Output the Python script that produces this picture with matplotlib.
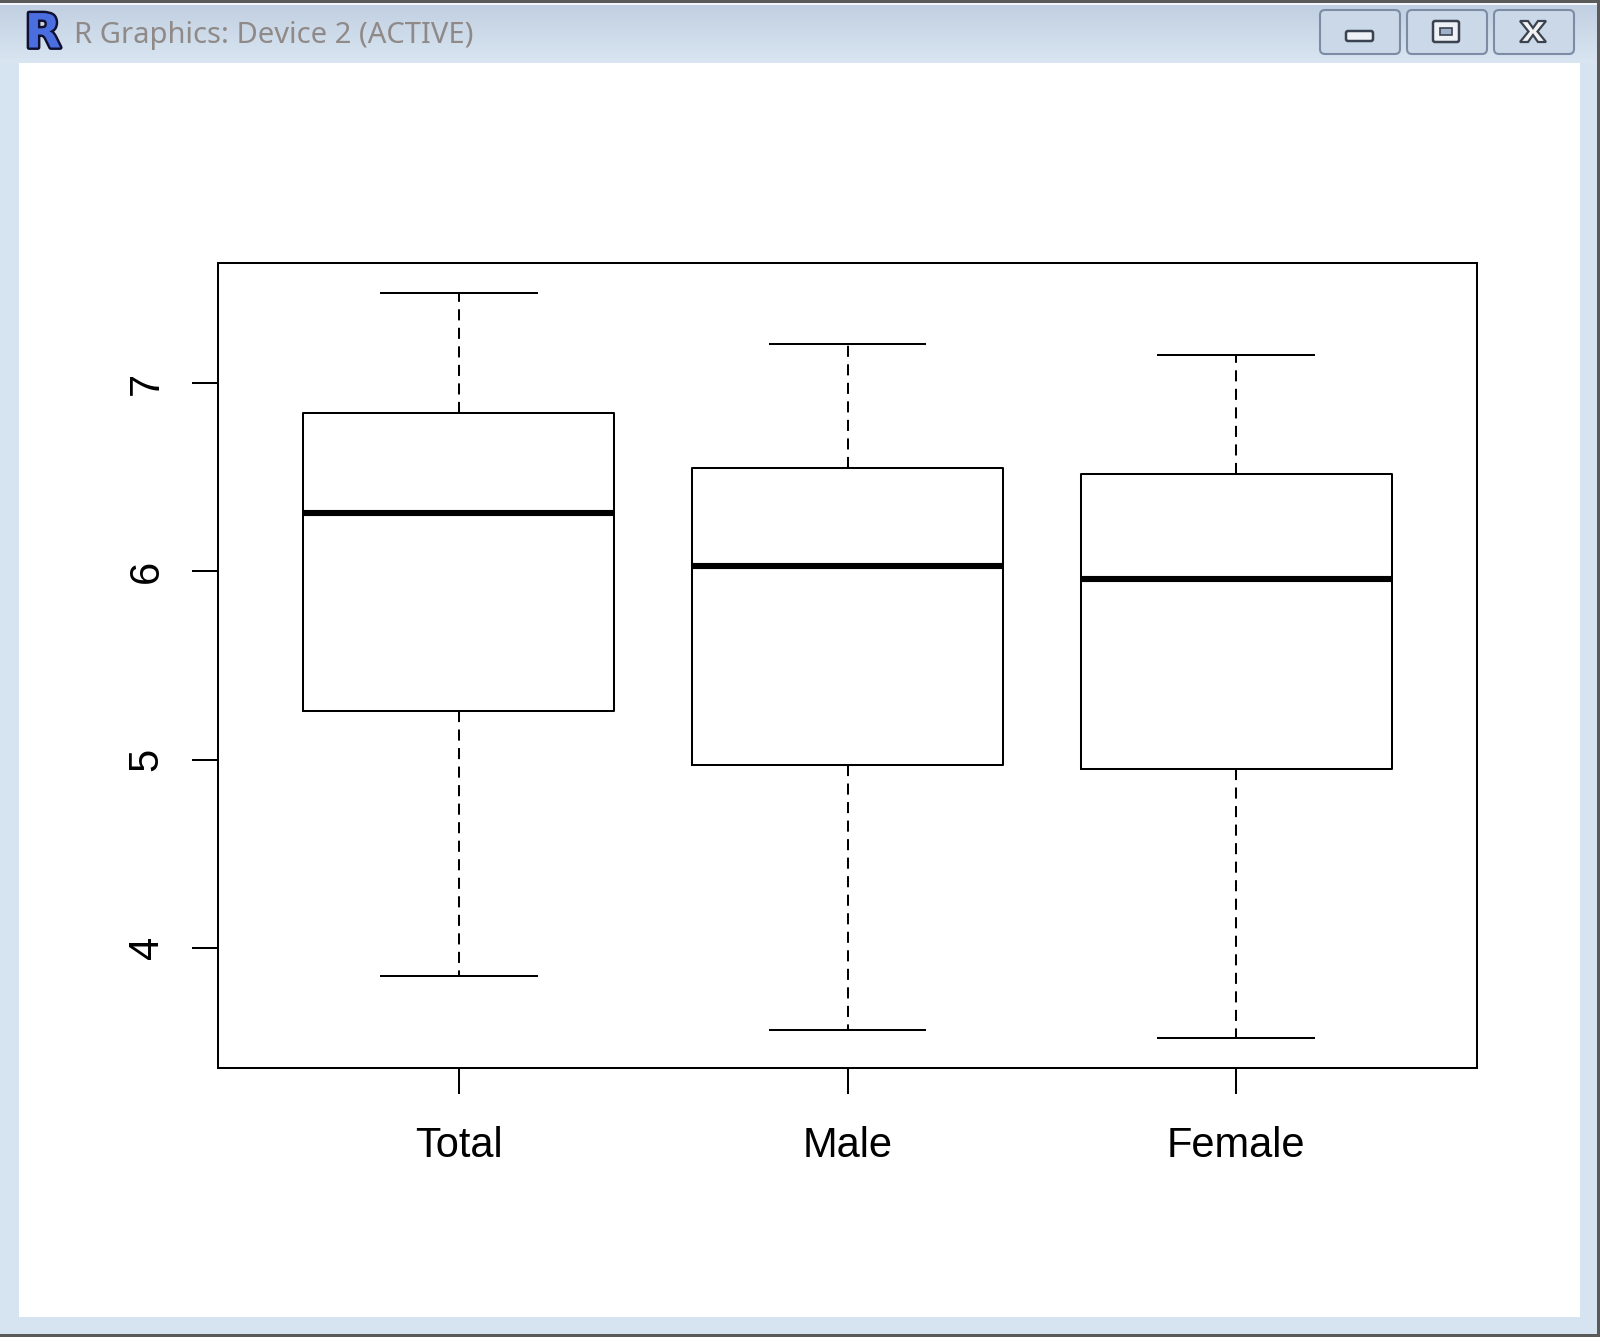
import numpy as np
import matplotlib
matplotlib.use("Agg")
import matplotlib.pyplot as plt
from matplotlib.patches import Rectangle, FancyBboxPatch, Polygon
from matplotlib.colors import LinearSegmentedColormap
import matplotlib.patheffects as pe

# boxplot summary values
groups = ["Total", "Male", "Female"]
whis_lo = [3.85, 3.56, 3.52]
q1 = [5.26, 4.97, 4.95]
medians = [6.31, 6.03, 5.96]
q3 = [6.84, 6.55, 6.52]
whis_hi = [7.48, 7.21, 7.15]
yticks = [4, 5, 6, 7]

W, H = 1600, 1337
fig = plt.figure(figsize=(W / 100, H / 100), dpi=100)

# --- window chrome (drawn in pixel coords) ---
bg = fig.add_axes([0, 0, 1, 1], zorder=0)
bg.axis("off")
bg.add_patch(Rectangle((0, 0), W, H, fc="#d6e3f1", ec="none", zorder=0))
grad = np.linspace(0, 1, 60).reshape(-1, 1)
tcmap = LinearSegmentedColormap.from_list("tb", ["#c0cfe1", "#d9e5f1"])
bg.imshow(grad, cmap=tcmap, extent=(0, W, 63, 3), aspect="auto", zorder=0.5)
bg.add_patch(Rectangle((18.5, 63), 1561.5, 1254, fc="white", ec="none"))
bg.add_patch(Rectangle((0, 0), W, 3, fc="#5a5a5a", ec="none"))
bg.add_patch(Rectangle((0, 3), W, 1.5, fc="#f2f5f9", ec="none"))
bg.add_patch(Rectangle((W - 3, 0), 3, H, fc="#5a5a5a", ec="none"))
bg.add_patch(Rectangle((0, H - 3), W, 3, fc="#5a5a5a", ec="none"))

# title bar
bg.text(43, 35, "R", fontsize=34, fontweight="bold", color="#4a6ee0",
        ha="center", va="center", family="DejaVu Sans",
        path_effects=[pe.withStroke(linewidth=3.5, foreground="#101030")])
bg.text(74.5, 35, "R Graphics: Device 2 (ACTIVE)", fontsize=21, color="#8f8a88",
        ha="left", va="center", family=["Noto Sans", "DejaVu Sans"])

for bx in [1320, 1407, 1494]:
    bg.add_patch(FancyBboxPatch((bx, 10), 80, 44, boxstyle="round,pad=0,rounding_size=5",
                                fc="#cad8e8", ec="#7d8ca5", lw=1.5))
bg.add_patch(FancyBboxPatch((1346, 31), 27, 10, boxstyle="round,pad=0,rounding_size=2",
                            fc="#eef1f5", ec="#3c4350", lw=1.8))
bg.add_patch(FancyBboxPatch((1433, 21), 26, 21, boxstyle="round,pad=0,rounding_size=2",
                            fc="#eef1f5", ec="#3c4350", lw=1.8))
bg.add_patch(Rectangle((1440, 28), 12, 7, fc="#9fb0c8", ec="#3c4350", lw=1.2))

# close "X" as one outlined polygon
cx, cy, a, b, d, c, f = 1533, 31.5, 13, 10.5, 8, 3.5, 4.5
xpts = [(-a, -b), (-a + d, -b), (0, -c), (a - d, -b), (a, -b), (f, 0),
        (a, b), (a - d, b), (0, c), (-a + d, b), (-a, b), (-f, 0)]
bg.add_patch(Polygon([(cx + px, cy + py) for px, py in xpts], closed=True,
                     fc="#f2f2f2", ec="#3c4350", lw=1.6, zorder=3))

bg.set_xlim(0, W)
bg.set_ylim(H, 0)

# --- the boxplot ---
left, right, top, bottom = 218, 1477, 263, 1068
ax = fig.add_axes([left / W, 1 - bottom / H, (right - left) / W, (bottom - top) / H], zorder=1)

stats = []
for i, g in enumerate(groups):
    stats.append(dict(label=g, whislo=whis_lo[i], q1=q1[i], med=medians[i],
                      q3=q3[i], whishi=whis_hi[i], fliers=[]))

lw = 1.45
ax.bxp(stats, positions=[1, 2, 3], widths=0.8, capwidths=0.4, showfliers=False,
       boxprops=dict(color="black", lw=lw),
       whiskerprops=dict(color="black", lw=lw, linestyle=(0, (5.5, 3.7))),
       capprops=dict(color="black", lw=lw),
       medianprops=dict(color="black", lw=4.4, solid_capstyle="butt"))

ax.set_xlim(0.38, 3.62)
ax.set_ylim(3.36, 7.64)
ax.set_yticks(yticks)
ax.set_yticklabels([str(t) for t in yticks])
for s in ax.spines.values():
    s.set_linewidth(lw)

lab_family = ["Liberation Sans", "DejaVu Sans"]
for t in ax.get_xticklabels() + ax.get_yticklabels():
    t.set_fontfamily(lab_family)
    t.set_fontsize(30)
ax.tick_params(axis="x", length=19, width=lw, pad=23, direction="out")
ax.tick_params(axis="y", length=19, width=lw, pad=18, direction="out", labelrotation=90)
for t in ax.get_yticklabels():
    t.set_va("center")

fig.savefig("out.png", dpi=100)
